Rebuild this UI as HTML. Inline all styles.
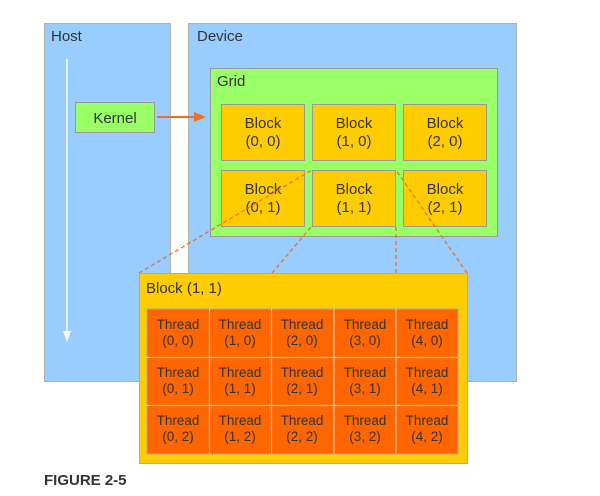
<!DOCTYPE html>
<html><head><meta charset="utf-8"><style>
html,body{margin:0;padding:0;background:#fff;width:600px;height:496px;overflow:hidden}
svg{display:block}
text{font-family:"Liberation Sans",sans-serif;fill:#333}
</style></head><body>
<svg width="600" height="496" viewBox="0 0 600 496">
<rect x="44.5" y="23.5" width="126" height="358" fill="#99ccff" stroke="#b0b0b0"/>
<text x="51" y="41" font-size="15">Host</text>
<line x1="67" y1="59" x2="67" y2="334" stroke="#fff" stroke-width="1.5"/>
<polygon points="63,331 71,331 67,342" fill="#fff"/>
<rect x="188.5" y="23.5" width="328" height="358" fill="#99ccff" stroke="#b0b0b0"/>
<text x="197" y="41" font-size="15">Device</text>
<rect x="75.5" y="102.5" width="79" height="30" fill="#99ff66" stroke="#999"/>
<text x="115" y="123" font-size="15" text-anchor="middle">Kernel</text>
<line x1="157" y1="117" x2="196" y2="117" stroke="#f07020" stroke-width="2"/>
<polygon points="194,112 206,117 194,122" fill="#f07020"/>
<rect x="210.5" y="68.5" width="287" height="168" fill="#99ff66" stroke="#999"/>
<text x="217" y="86" font-size="15">Grid</text>
<g font-size="15" text-anchor="middle">
<rect x="221.5" y="104.5" width="83" height="56" fill="#ffcc00" stroke="#999"/>
<text x="263" y="128">Block</text><text x="263" y="146">(0, 0)</text>
<rect x="312.5" y="104.5" width="83" height="56" fill="#ffcc00" stroke="#999"/>
<text x="354" y="128">Block</text><text x="354" y="146">(1, 0)</text>
<rect x="403.5" y="104.5" width="83" height="56" fill="#ffcc00" stroke="#999"/>
<text x="445" y="128">Block</text><text x="445" y="146">(2, 0)</text>
<rect x="221.5" y="170.5" width="83" height="56" fill="#ffcc00" stroke="#999"/>
<text x="263" y="194">Block</text><text x="263" y="212">(0, 1)</text>
<rect x="312.5" y="170.5" width="83" height="56" fill="#ffcc00" stroke="#999"/>
<text x="354" y="194">Block</text><text x="354" y="212">(1, 1)</text>
<rect x="403.5" y="170.5" width="83" height="56" fill="#ffcc00" stroke="#999"/>
<text x="445" y="194">Block</text><text x="445" y="212">(2, 1)</text>
</g>
<g stroke="#f07020" stroke-width="1.3" stroke-dasharray="4,3" fill="none">
<line x1="139" y1="273" x2="312" y2="170"/>
<line x1="272" y1="273" x2="312" y2="226"/>
<line x1="396" y1="273" x2="396" y2="226"/>
<line x1="467" y1="273" x2="396" y2="170"/>
</g>
<rect x="139.5" y="273.5" width="328" height="190" fill="#ffcc00" stroke="#aaa"/>
<text x="146" y="293" font-size="15">Block (1, 1)</text>
<rect x="147" y="309" width="311" height="145" fill="#ff6600" stroke="#aaa"/>
<g stroke="#f5c8a0" stroke-width="1.2">
<line x1="209.5" y1="309" x2="209.5" y2="454"/><line x1="271.5" y1="309" x2="271.5" y2="454"/>
<line x1="334" y1="309" x2="334" y2="454"/><line x1="396" y1="309" x2="396" y2="454"/>
<line x1="147" y1="357.5" x2="458" y2="357.5"/><line x1="147" y1="405.5" x2="458" y2="405.5"/>
</g>
<g font-size="13.5" text-anchor="middle">
<text x="178" y="329">Thread</text><text x="178" y="345">(0, 0)</text>
<text x="240" y="329">Thread</text><text x="240" y="345">(1, 0)</text>
<text x="302" y="329">Thread</text><text x="302" y="345">(2, 0)</text>
<text x="365" y="329">Thread</text><text x="365" y="345">(3, 0)</text>
<text x="427" y="329">Thread</text><text x="427" y="345">(4, 0)</text>
<text x="178" y="377">Thread</text><text x="178" y="393">(0, 1)</text>
<text x="240" y="377">Thread</text><text x="240" y="393">(1, 1)</text>
<text x="302" y="377">Thread</text><text x="302" y="393">(2, 1)</text>
<text x="365" y="377">Thread</text><text x="365" y="393">(3, 1)</text>
<text x="427" y="377">Thread</text><text x="427" y="393">(4, 1)</text>
<text x="178" y="425">Thread</text><text x="178" y="441">(0, 2)</text>
<text x="240" y="425">Thread</text><text x="240" y="441">(1, 2)</text>
<text x="302" y="425">Thread</text><text x="302" y="441">(2, 2)</text>
<text x="365" y="425">Thread</text><text x="365" y="441">(3, 2)</text>
<text x="427" y="425">Thread</text><text x="427" y="441">(4, 2)</text>
</g>
<text x="44" y="485" font-size="15" font-weight="bold" fill="#333">FIGURE 2-5</text>
</svg>
</body></html>
